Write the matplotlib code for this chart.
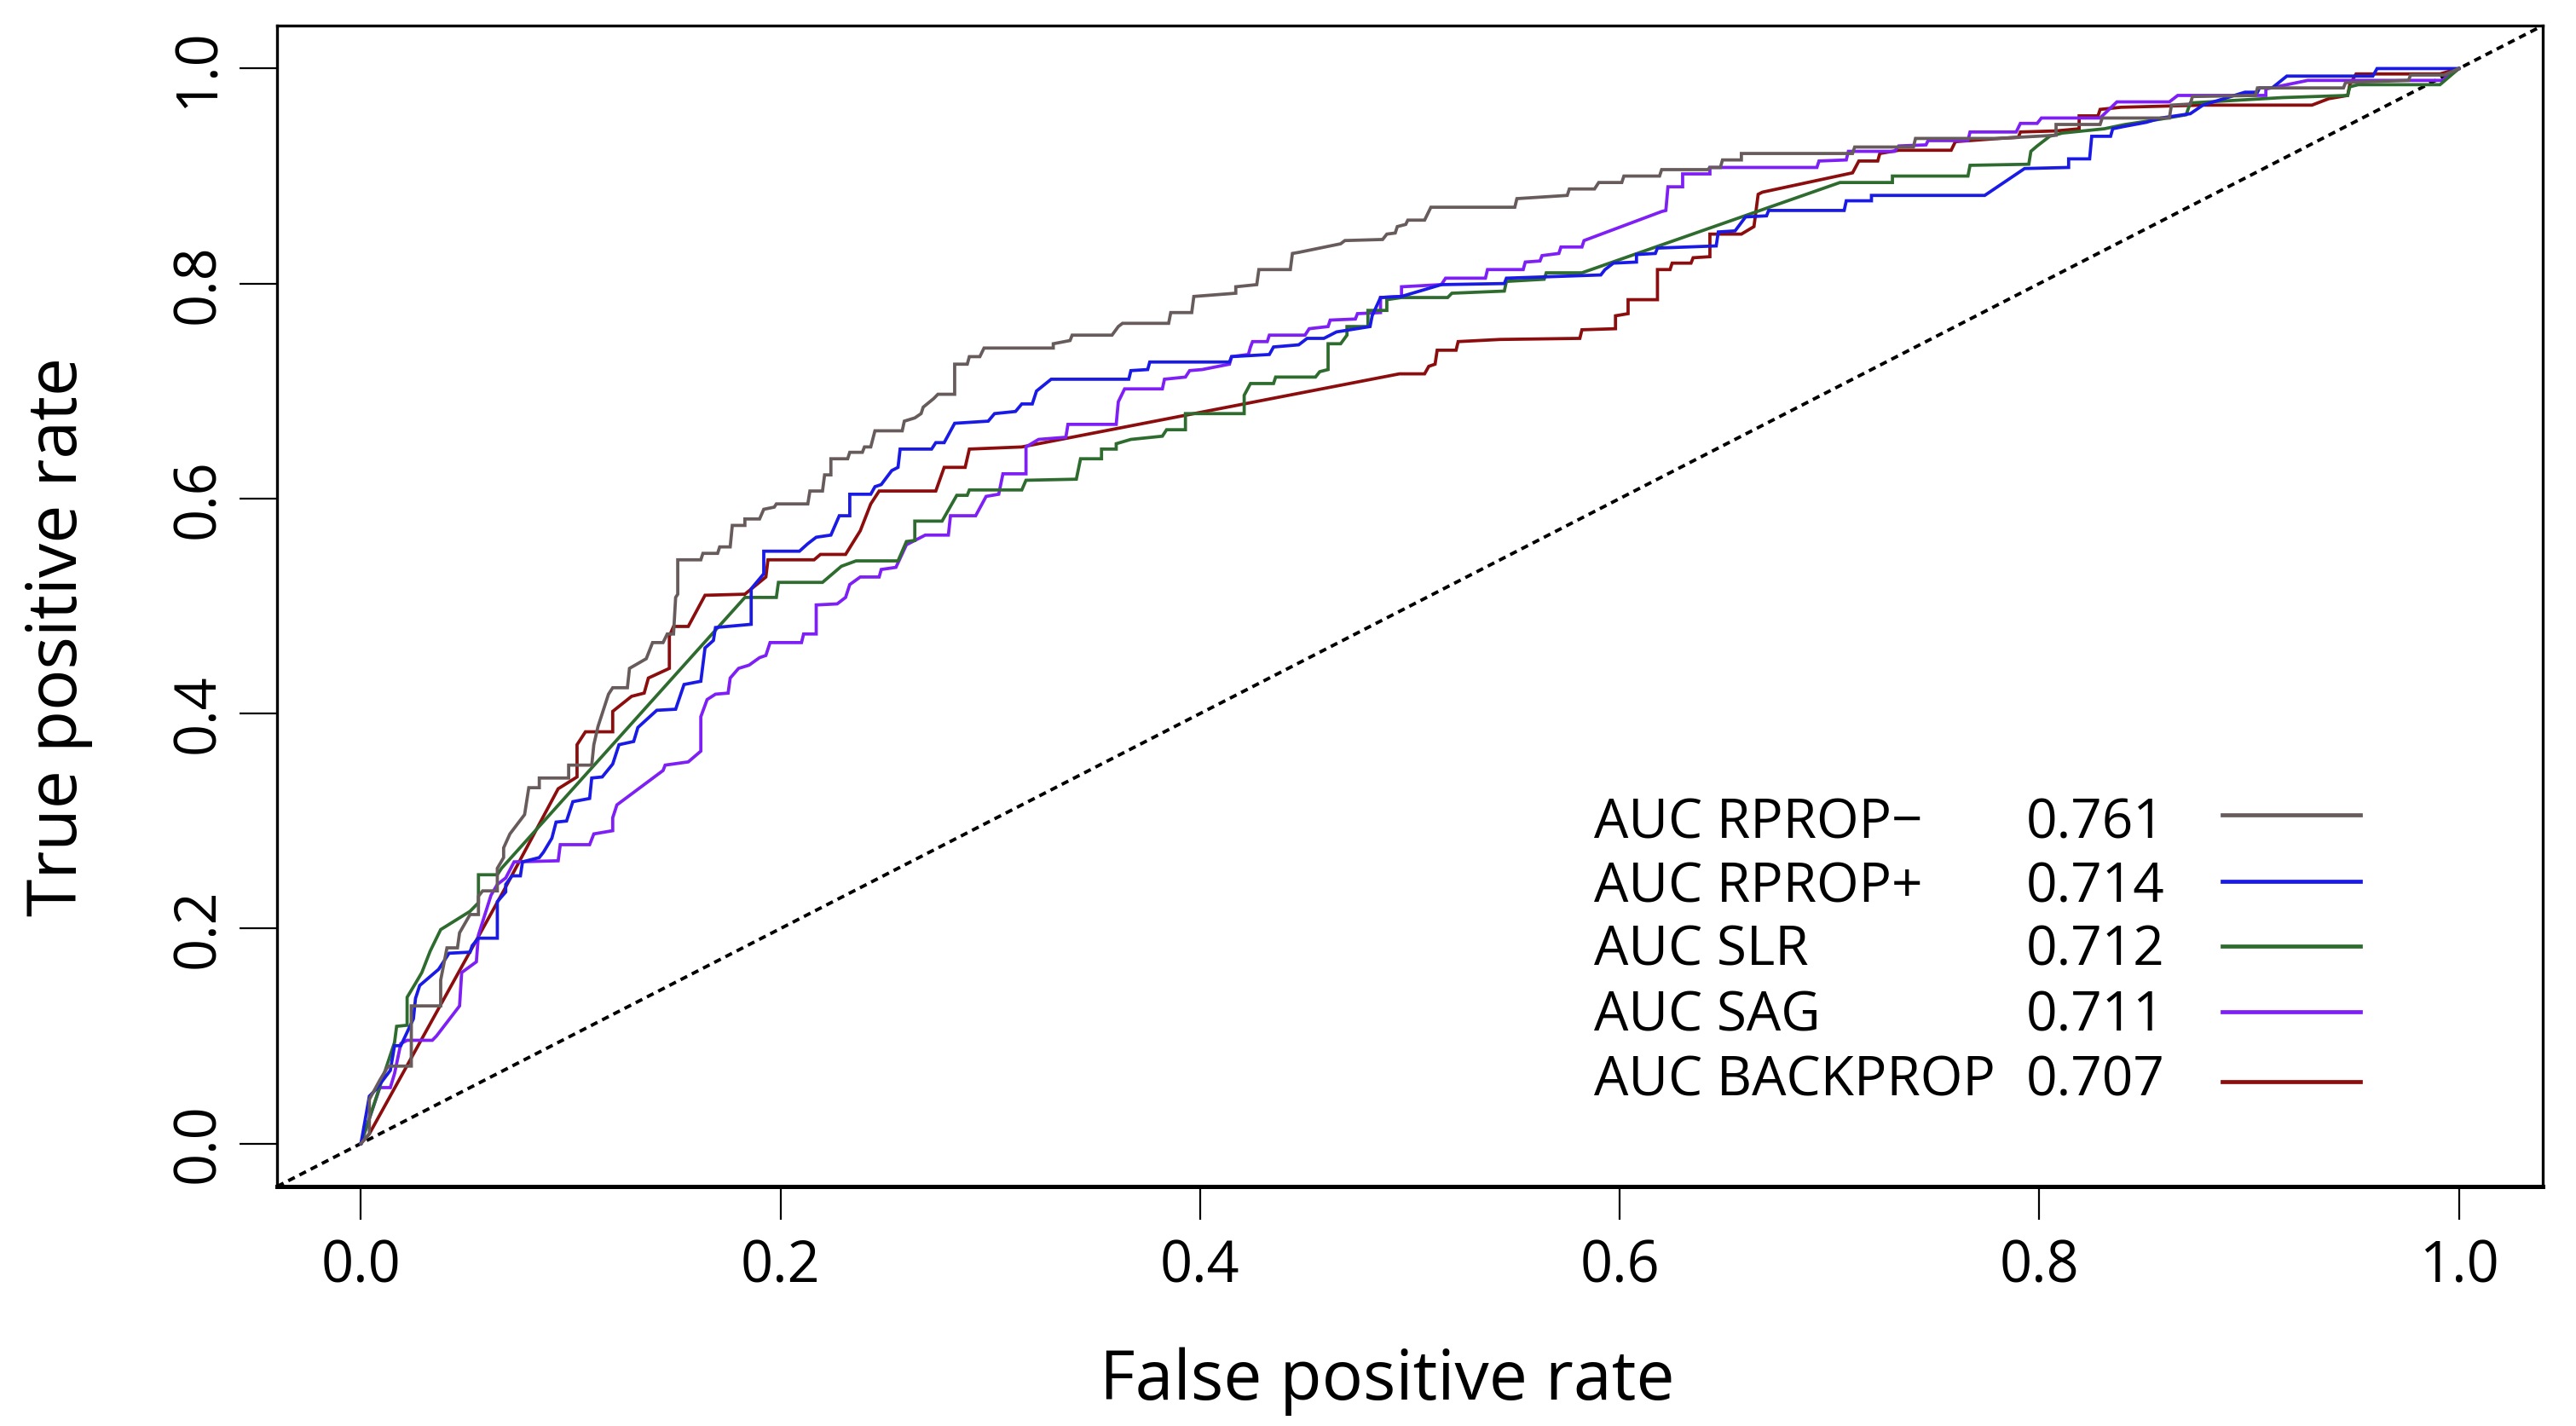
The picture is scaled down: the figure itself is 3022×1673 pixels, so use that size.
import matplotlib
matplotlib.use("Agg")
import matplotlib.pyplot as plt
from matplotlib.lines import Line2D

plt.rcParams['font.family'] = ['Open Sans', 'DejaVu Sans']

# ---------------- data ----------------
model_names = ["AUC RPROP\u2212", "AUC RPROP+", "AUC SLR", "AUC SAG", "AUC BACKPROP"]
auc_values = ["0.761", "0.714", "0.712", "0.711", "0.707"]
tick_values = [0.0, 0.2, 0.4, 0.6, 0.8, 1.0]
tick_labels = ["0.0", "0.2", "0.4", "0.6", "0.8", "1.0"]

fpr_rprop_minus = [0, 0.004, 0.004, 0.009, 0.013, 0.024, 0.024, 0.038, 0.038, 0.041, 0.046, 0.047, 0.052, 0.056, 0.056, 0.058, 0.065, 0.065, 0.068, 0.068, 0.071, 0.078, 0.080, 0.085, 0.085, 0.099, 0.099, 0.110, 0.111, 0.113, 0.118, 0.120, 0.127, 0.128, 0.136, 0.139, 0.144, 0.146, 0.149, 0.150, 0.151, 0.151, 0.162, 0.163, 0.170, 0.171, 0.176, 0.177, 0.183, 0.183, 0.190, 0.192, 0.197, 0.198, 0.213, 0.214, 0.220, 0.221, 0.224, 0.224, 0.232, 0.233, 0.239, 0.240, 0.243, 0.245, 0.258, 0.259, 0.264, 0.267, 0.268, 0.273, 0.275, 0.283, 0.283, 0.289, 0.290, 0.295, 0.297, 0.330, 0.330, 0.338, 0.339, 0.358, 0.361, 0.363, 0.385, 0.386, 0.396, 0.397, 0.417, 0.417, 0.427, 0.428, 0.443, 0.444, 0.447, 0.467, 0.469, 0.487, 0.489, 0.493, 0.494, 0.498, 0.499, 0.507, 0.510, 0.550, 0.551, 0.575, 0.576, 0.588, 0.590, 0.601, 0.602, 0.619, 0.620, 0.642, 0.643, 0.648, 0.649, 0.658, 0.658, 0.711, 0.712, 0.740, 0.741, 0.780, 0.808, 0.808, 0.829, 0.830, 0.862, 0.863, 0.872, 0.873, 0.903, 0.904, 0.945, 0.946, 0.976, 0.977, 0.993, 1.0]
tpr_rprop_minus = [0, 0.009, 0.041, 0.059, 0.072, 0.072, 0.128, 0.128, 0.152, 0.182, 0.182, 0.196, 0.213, 0.213, 0.230, 0.235, 0.235, 0.256, 0.266, 0.275, 0.288, 0.306, 0.331, 0.331, 0.340, 0.340, 0.352, 0.352, 0.371, 0.388, 0.418, 0.424, 0.424, 0.442, 0.451, 0.466, 0.466, 0.474, 0.474, 0.508, 0.511, 0.543, 0.543, 0.549, 0.549, 0.555, 0.555, 0.575, 0.575, 0.581, 0.581, 0.590, 0.592, 0.595, 0.595, 0.607, 0.607, 0.622, 0.622, 0.637, 0.637, 0.643, 0.643, 0.648, 0.648, 0.663, 0.663, 0.672, 0.675, 0.679, 0.685, 0.693, 0.697, 0.697, 0.725, 0.725, 0.732, 0.732, 0.740, 0.740, 0.744, 0.747, 0.752, 0.752, 0.760, 0.763, 0.763, 0.773, 0.773, 0.788, 0.791, 0.797, 0.799, 0.813, 0.813, 0.828, 0.829, 0.837, 0.840, 0.841, 0.846, 0.847, 0.853, 0.855, 0.859, 0.859, 0.871, 0.871, 0.879, 0.882, 0.888, 0.888, 0.894, 0.894, 0.900, 0.900, 0.906, 0.906, 0.908, 0.908, 0.915, 0.915, 0.921, 0.921, 0.927, 0.927, 0.935, 0.935, 0.938, 0.948, 0.948, 0.954, 0.954, 0.966, 0.967, 0.974, 0.975, 0.982, 0.982, 0.987, 0.989, 0.994, 0.994, 1.0]

fpr_rprop_plus = [0, 0.004, 0.007, 0.014, 0.016, 0.019, 0.025, 0.026, 0.028, 0.037, 0.040, 0.042, 0.052, 0.053, 0.056, 0.065, 0.065, 0.069, 0.069, 0.072, 0.076, 0.077, 0.085, 0.087, 0.091, 0.093, 0.098, 0.101, 0.109, 0.110, 0.115, 0.120, 0.123, 0.130, 0.132, 0.141, 0.150, 0.154, 0.162, 0.164, 0.168, 0.169, 0.186, 0.186, 0.192, 0.192, 0.209, 0.213, 0.217, 0.224, 0.228, 0.233, 0.233, 0.243, 0.245, 0.248, 0.253, 0.256, 0.257, 0.272, 0.274, 0.278, 0.283, 0.299, 0.302, 0.312, 0.315, 0.320, 0.322, 0.329, 0.366, 0.367, 0.375, 0.376, 0.414, 0.415, 0.433, 0.435, 0.447, 0.451, 0.459, 0.465, 0.481, 0.482, 0.486, 0.496, 0.515, 0.545, 0.546, 0.591, 0.593, 0.597, 0.608, 0.608, 0.617, 0.618, 0.646, 0.647, 0.655, 0.660, 0.670, 0.671, 0.707, 0.708, 0.720, 0.720, 0.774, 0.793, 0.814, 0.814, 0.824, 0.825, 0.834, 0.835, 0.840, 0.851, 0.858, 0.872, 0.878, 0.898, 0.904, 0.905, 0.911, 0.918, 0.959, 0.961, 1.0]
tpr_rprop_plus = [0, 0.044, 0.050, 0.068, 0.091, 0.091, 0.116, 0.135, 0.147, 0.162, 0.171, 0.177, 0.178, 0.184, 0.191, 0.191, 0.225, 0.234, 0.241, 0.249, 0.249, 0.262, 0.266, 0.271, 0.284, 0.299, 0.300, 0.318, 0.321, 0.340, 0.341, 0.353, 0.371, 0.374, 0.387, 0.403, 0.404, 0.427, 0.430, 0.461, 0.468, 0.480, 0.483, 0.516, 0.530, 0.551, 0.551, 0.558, 0.564, 0.566, 0.584, 0.584, 0.604, 0.604, 0.611, 0.613, 0.626, 0.629, 0.646, 0.646, 0.652, 0.652, 0.670, 0.672, 0.679, 0.681, 0.688, 0.688, 0.700, 0.711, 0.711, 0.719, 0.720, 0.727, 0.727, 0.732, 0.734, 0.741, 0.743, 0.749, 0.749, 0.755, 0.760, 0.770, 0.787, 0.788, 0.799, 0.800, 0.805, 0.808, 0.813, 0.819, 0.820, 0.827, 0.828, 0.833, 0.835, 0.848, 0.849, 0.862, 0.863, 0.868, 0.868, 0.877, 0.877, 0.882, 0.882, 0.907, 0.908, 0.916, 0.916, 0.937, 0.937, 0.944, 0.946, 0.950, 0.954, 0.958, 0.966, 0.978, 0.978, 0.982, 0.982, 0.993, 0.993, 1.0, 1.0]

fpr_slr = [0, 0.016, 0.017, 0.022, 0.022, 0.026, 0.029, 0.033, 0.038, 0.052, 0.056, 0.056, 0.065, 0.067, 0.183, 0.198, 0.199, 0.220, 0.229, 0.236, 0.256, 0.260, 0.264, 0.264, 0.277, 0.284, 0.289, 0.290, 0.315, 0.317, 0.341, 0.343, 0.353, 0.353, 0.360, 0.360, 0.367, 0.382, 0.384, 0.393, 0.393, 0.421, 0.421, 0.424, 0.435, 0.436, 0.455, 0.457, 0.461, 0.461, 0.467, 0.470, 0.470, 0.480, 0.480, 0.489, 0.489, 0.496, 0.518, 0.520, 0.545, 0.546, 0.564, 0.565, 0.582, 0.705, 0.730, 0.730, 0.766, 0.767, 0.795, 0.796, 0.799, 0.805, 0.811, 0.831, 0.841, 0.858, 0.870, 0.872, 0.916, 0.947, 0.948, 0.952, 0.991, 1.0]
tpr_slr = [0, 0.094, 0.109, 0.110, 0.136, 0.149, 0.159, 0.179, 0.199, 0.216, 0.224, 0.250, 0.250, 0.256, 0.508, 0.508, 0.522, 0.522, 0.537, 0.542, 0.542, 0.560, 0.561, 0.579, 0.579, 0.603, 0.603, 0.608, 0.608, 0.617, 0.618, 0.637, 0.637, 0.646, 0.646, 0.651, 0.655, 0.658, 0.664, 0.664, 0.679, 0.679, 0.696, 0.707, 0.707, 0.713, 0.713, 0.718, 0.720, 0.744, 0.744, 0.752, 0.760, 0.760, 0.775, 0.775, 0.785, 0.787, 0.787, 0.791, 0.793, 0.802, 0.804, 0.810, 0.810, 0.894, 0.894, 0.900, 0.900, 0.910, 0.911, 0.923, 0.928, 0.937, 0.940, 0.944, 0.948, 0.953, 0.957, 0.968, 0.973, 0.975, 0.983, 0.985, 0.985, 1.0]

fpr_sag = [0, 0.004, 0.009, 0.014, 0.016, 0.019, 0.022, 0.034, 0.036, 0.047, 0.048, 0.055, 0.056, 0.062, 0.065, 0.069, 0.073, 0.094, 0.095, 0.109, 0.111, 0.120, 0.120, 0.122, 0.144, 0.145, 0.156, 0.162, 0.162, 0.165, 0.169, 0.175, 0.176, 0.180, 0.185, 0.190, 0.193, 0.195, 0.210, 0.211, 0.217, 0.217, 0.227, 0.231, 0.233, 0.238, 0.247, 0.248, 0.255, 0.260, 0.264, 0.269, 0.280, 0.281, 0.293, 0.298, 0.304, 0.306, 0.317, 0.317, 0.323, 0.336, 0.337, 0.360, 0.361, 0.364, 0.382, 0.383, 0.393, 0.395, 0.401, 0.414, 0.415, 0.423, 0.424, 0.425, 0.432, 0.433, 0.450, 0.452, 0.461, 0.462, 0.474, 0.475, 0.486, 0.486, 0.496, 0.496, 0.515, 0.517, 0.536, 0.537, 0.554, 0.555, 0.562, 0.563, 0.571, 0.572, 0.582, 0.583, 0.620, 0.622, 0.623, 0.630, 0.630, 0.643, 0.643, 0.694, 0.695, 0.708, 0.709, 0.731, 0.733, 0.746, 0.747, 0.766, 0.767, 0.789, 0.791, 0.799, 0.801, 0.829, 0.837, 0.862, 0.866, 0.908, 0.908, 0.928, 0.992, 1.0]
tpr_sag = [0, 0.023, 0.052, 0.052, 0.065, 0.093, 0.096, 0.096, 0.100, 0.128, 0.159, 0.169, 0.194, 0.231, 0.241, 0.247, 0.262, 0.263, 0.278, 0.278, 0.288, 0.291, 0.303, 0.315, 0.347, 0.352, 0.355, 0.365, 0.397, 0.413, 0.418, 0.419, 0.433, 0.442, 0.445, 0.452, 0.454, 0.466, 0.466, 0.474, 0.474, 0.501, 0.502, 0.508, 0.520, 0.527, 0.527, 0.534, 0.536, 0.557, 0.561, 0.566, 0.566, 0.584, 0.584, 0.602, 0.604, 0.623, 0.623, 0.648, 0.655, 0.657, 0.669, 0.669, 0.690, 0.702, 0.702, 0.711, 0.713, 0.719, 0.720, 0.725, 0.732, 0.734, 0.741, 0.746, 0.746, 0.752, 0.752, 0.758, 0.760, 0.766, 0.767, 0.772, 0.773, 0.787, 0.788, 0.797, 0.799, 0.805, 0.805, 0.813, 0.813, 0.820, 0.821, 0.826, 0.828, 0.834, 0.834, 0.840, 0.867, 0.868, 0.890, 0.890, 0.902, 0.902, 0.908, 0.908, 0.914, 0.915, 0.923, 0.923, 0.928, 0.929, 0.933, 0.933, 0.941, 0.941, 0.949, 0.949, 0.954, 0.954, 0.969, 0.969, 0.975, 0.975, 0.981, 0.989, 0.989, 1.0]

fpr_backprop = [0, 0.004, 0.068, 0.094, 0.103, 0.103, 0.107, 0.120, 0.120, 0.129, 0.135, 0.137, 0.147, 0.147, 0.149, 0.156, 0.164, 0.183, 0.193, 0.194, 0.216, 0.219, 0.231, 0.238, 0.243, 0.247, 0.274, 0.278, 0.288, 0.290, 0.315, 0.495, 0.507, 0.509, 0.512, 0.513, 0.522, 0.523, 0.543, 0.581, 0.582, 0.598, 0.598, 0.604, 0.604, 0.618, 0.618, 0.624, 0.625, 0.634, 0.635, 0.643, 0.643, 0.658, 0.664, 0.666, 0.668, 0.711, 0.714, 0.723, 0.724, 0.733, 0.758, 0.760, 0.781, 0.790, 0.791, 0.808, 0.819, 0.819, 0.828, 0.829, 0.839, 0.878, 0.930, 0.938, 0.947, 0.948, 0.951, 0.959, 0.991, 1.0]
tpr_backprop = [0, 0.009, 0.235, 0.330, 0.341, 0.371, 0.383, 0.383, 0.402, 0.416, 0.419, 0.433, 0.442, 0.472, 0.481, 0.481, 0.510, 0.511, 0.527, 0.543, 0.543, 0.548, 0.548, 0.570, 0.595, 0.607, 0.607, 0.629, 0.629, 0.646, 0.648, 0.716, 0.716, 0.723, 0.725, 0.738, 0.738, 0.746, 0.748, 0.749, 0.757, 0.758, 0.770, 0.772, 0.785, 0.785, 0.813, 0.813, 0.819, 0.819, 0.824, 0.825, 0.846, 0.846, 0.853, 0.883, 0.885, 0.903, 0.914, 0.914, 0.921, 0.924, 0.924, 0.932, 0.935, 0.936, 0.941, 0.942, 0.944, 0.956, 0.956, 0.962, 0.964, 0.966, 0.966, 0.972, 0.975, 0.985, 0.995, 0.995, 0.995, 1.0]

curve_fpr = [fpr_rprop_minus, fpr_rprop_plus, fpr_slr, fpr_sag, fpr_backprop]
curve_tpr = [tpr_rprop_minus, tpr_rprop_plus, tpr_slr, tpr_sag, tpr_backprop]
colors = ["#675b5b", "#1a1ae6", "#2e6b2e", "#7d1ff5", "#8b0d0d"]

# ---------------- figure ----------------
fig = plt.figure(figsize=(15.11, 8.365), dpi=200)
ax = fig.add_axes([0.10755, 0.16796, 0.87955, 0.81411])

# draw order: later series drawn on top
for i in [4, 3, 2, 1, 0]:
    ax.plot(curve_fpr[i], curve_tpr[i], color=colors[i], lw=1.35,
            solid_joinstyle='miter', zorder=3)

ax.axline((0, 0), slope=1, color='black', lw=1.4, linestyle=(0, (2.2, 1.6)), zorder=2)

ax.set_xlim(-0.04, 1.04)
ax.set_ylim(-0.04, 1.04)
ax.set_xticks(tick_values)
ax.set_xticklabels(tick_labels)
ax.set_yticks(tick_values)
ax.set_yticklabels(tick_labels)

for s in ax.spines.values():
    s.set_linewidth(1.2)
    s.set_color('black')
ax.spines['bottom'].set_linewidth(1.8)

ax.tick_params(axis='x', direction='out', length=14, width=0.8, pad=8,
               labelsize=24, colors='black')
ax.tick_params(axis='y', direction='out', length=16, width=0.8, pad=5,
               labelsize=24, colors='black', labelrotation=90)
for lab in ax.get_yticklabels():
    lab.set_va('center')

ax.set_xlabel("False positive rate", fontsize=29)
ax.set_ylabel("True positive rate", fontsize=29)
ax.xaxis.set_label_coords(0.49, -0.1836)
ax.xaxis.label.set_va('baseline')
ax.yaxis.set_label_coords(-0.0884, 0.4736)
ax.yaxis.label.set_va('baseline')

# ---------------- legend (manual, R style) ----------------
row_text_y = [0.4124, 0.3676, 0.3228, 0.2773, 0.2319]
row_line_y = [0.4286, 0.3819, 0.3365, 0.2905, 0.2415]
for i in range(5):
    fig.text(0.6188, row_text_y[i], model_names[i], fontsize=23, va='baseline', ha='left')
    fig.text(0.7866, row_text_y[i], auc_values[i], fontsize=23, va='baseline', ha='left')
    fig.add_artist(Line2D([0.8627, 0.9163], [row_line_y[i], row_line_y[i]],
                          transform=fig.transFigure, color=colors[i], lw=1.7))

fig.savefig("out.png", dpi=200, facecolor='white')
